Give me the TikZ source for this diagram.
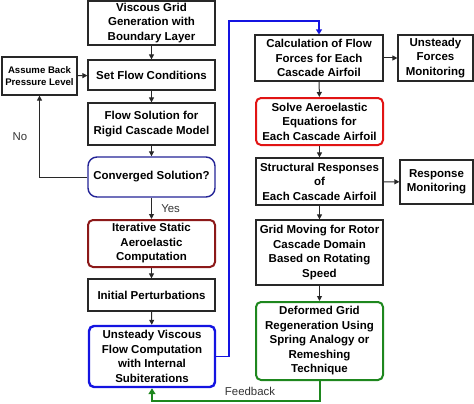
\documentclass[tikz,border=0pt]{standalone}
\usepackage{fontspec}
\setmainfont{Liberation Sans}
\usetikzlibrary{arrows.meta}
\definecolor{cblue}{RGB}{20,20,225}
\definecolor{cnavy}{RGB}{35,35,150}
\definecolor{cdred}{RGB}{140,25,25}
\definecolor{cred}{RGB}{225,20,20}
\definecolor{cgreen}{RGB}{30,135,30}
\definecolor{cline}{RGB}{40,40,40}
\tikzset{
  box/.style={draw=cline, line width=1.2pt, align=center, inner sep=1pt,
    font=\bfseries\fontsize{11.5}{14.5}\selectfont},
  rbox/.style={box, rounded corners=5pt},
  lbl/.style={font=\fontsize{11.4}{13}\selectfont, text=black!80},
  arr/.style={-{Triangle[length=5pt,width=5pt]}, line width=1pt, draw=cline},
}
\begin{document}
\begin{tikzpicture}[x=1pt,y=1pt]
\useasboundingbox (0,0) rectangle (474,-404);
% left column
\node[box, minimum width=127pt, minimum height=44pt] (b1) at (151.5,-23) {Viscous Grid\\Generation with\\Boundary Layer};
\node[box, minimum width=127pt, minimum height=30pt] (b2) at (151.5,-75) {Set Flow Conditions};
\node[box, minimum width=75pt, minimum height=38pt, font=\bfseries\fontsize{9.6}{12.5}\selectfont] (back) at (39.5,-76) {Assume Back\\Pressure Level};
\node[box, minimum width=127pt, minimum height=42pt] (b3) at (151.5,-124) {Flow Solution for\\Rigid Cascade Model};
\node[rbox, draw=cnavy, line width=1.4pt, rounded corners=9pt, minimum width=127pt, minimum height=40pt] (conv) at (151.5,-177) {Converged Solution?};
\node[rbox, draw=cdred, line width=2pt, minimum width=127pt, minimum height=47pt] (iter) at (151.5,-243.5) {Iterative Static\\Aeroelastic\\Computation};
\node[box, minimum width=127pt, minimum height=32pt] (init) at (151.5,-295) {Initial Perturbations};
\node[rbox, draw=cblue, line width=2.4pt, minimum width=126pt, minimum height=61pt] (unst) at (152,-356.5) {Unsteady Viscous\\Flow Computation\\with Internal\\Subiterations};
% right column
\node[box, minimum width=128pt, minimum height=46pt] (calc) at (319,-58) {Calculation of Flow\\Forces for Each\\Cascade Airfoil};
\node[box, minimum width=75pt, minimum height=46pt] (ufm) at (435.5,-58) {Unsteady\\Forces\\Monitoring};
\node[rbox, draw=cred, line width=2pt, minimum width=127pt, minimum height=47pt] (solve) at (319.5,-121.5) {Solve Aeroelastic\\Equations for\\Each Cascade Airfoil};
\node[box, minimum width=127pt, minimum height=47pt] (struct) at (319.5,-181.5) {Structural Responses\\of\\Each Cascade Airfoil};
\node[box, minimum width=73pt, minimum height=44pt] (resp) at (436.5,-182) {Response\\Monitoring};
\node[box, minimum width=127pt, minimum height=65pt] (grid) at (319.5,-252.5) {Grid Moving for Rotor\\Cascade Domain\\Based on Rotating\\Speed};
\node[rbox, draw=cgreen, line width=2pt, minimum width=127pt, minimum height=78pt] (deform) at (319.5,-341) {Deformed Grid\\Regeneration Using\\Spring Analogy or\\Remeshing\\Technique};
% coordinates
\coordinate (bl) at (229,-21);
% connectors left
\draw[arr] (b1) -- (b2);
\draw[arr] (back) -- (b2);
\draw[arr] (b2) -- (b3);
\draw[arr] (b3) -- (conv);
\draw[arr] (conv.west) -| (back.south);
\draw[arr] (conv) -- (iter) node[lbl, midway, right=6pt] {Yes};
\draw[arr] (iter) -- (init);
\draw[arr] (init) -- (unst);
\node[lbl] (no) at (20,-137) {No};
% blue loop
\draw[-{Triangle[length=5pt,width=6pt]}, line width=1.8pt, draw=cblue] (unst.east) -| (bl) -| (calc.north);
% right connectors
\draw[arr] (calc) -- (ufm);
\draw[arr] (calc) -- (solve);
\draw[arr] (solve) -- (struct);
\draw[arr] (struct) -- (resp);
\draw[arr] (struct) -- (grid);
\draw[arr] (grid) -- (deform);
% green feedback
\draw[-{Triangle[length=6pt,width=7pt]}, line width=2pt, draw=cgreen] (deform.south) -- ++(0,-19.5) -| (unst.south);
\node[lbl] (fb) at (250,-391) {Feedback};
\end{tikzpicture}
\end{document}
